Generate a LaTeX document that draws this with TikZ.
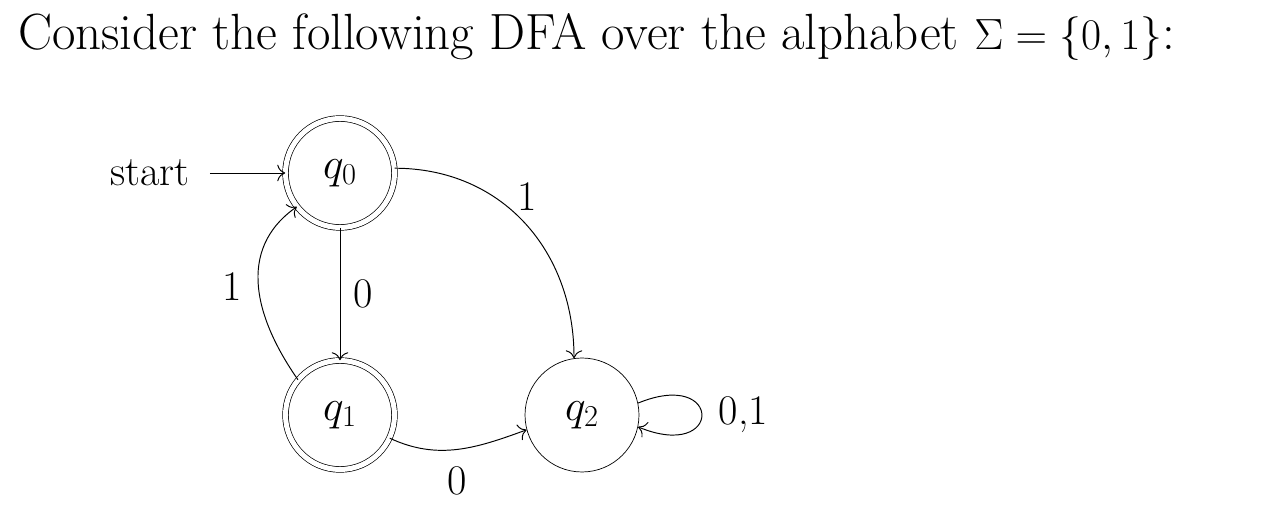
\documentclass[tikz,border=0pt]{standalone}
\usetikzlibrary{arrows.meta}
\begin{document}
\begin{tikzpicture}[x=0.02cm,y=-0.02cm,
  every node/.style={font=\fontsize{24}{29}\selectfont},
  state/.style={circle,draw,minimum size=2.28cm,inner sep=0pt},
  accst/.style={state,double,double distance=0.1cm,minimum size=2.18cm},
  edge/.style={-{To[scale=1.6]},line width=0.55pt}]
\useasboundingbox (0,0) rectangle (1286,506);
\node[anchor=base west,font=\fontsize{29}{35}\selectfont] (title) at (12,50) {Consider the following DFA over the alphabet $\Sigma=\{0,1\}$:};
\node[accst] (q0) at (340,173) {$q_0$};
\node[accst] (q1) at (340,415) {$q_1$};
\node[state] (q2) at (582,415) {$q_2$};
\node (start) at (150,173) {start};
\draw[edge,shorten <=8pt] (start) -- (q0);
\draw[edge] (q0) -- node[right=4pt] {0} (q1);
\draw[edge] (q1.140) to[out=125,in=215,looseness=1.1] node[left=6pt] {1} (q0.218);
\draw[edge] (q0.5) to[out=0,in=90,looseness=1.05] node[above right=-2pt,pos=0.45] {1} (q2.98);
\draw[edge] (q1.-25) to[out=-25,in=200] node[below=6pt] {0} (q2.195);
\draw[edge] (q2.12) .. controls +(85,-35) and +(85,35) .. node[right=6pt] {0,1} (q2.-12);
\end{tikzpicture}
\end{document}
